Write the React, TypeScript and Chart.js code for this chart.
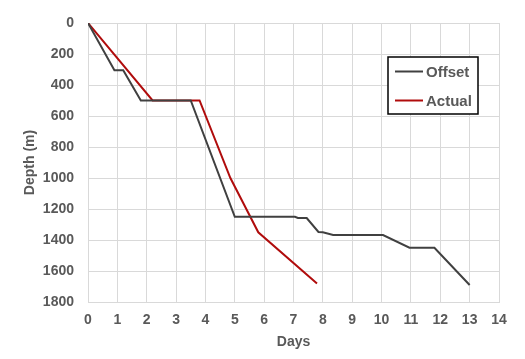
import React, { useEffect, useRef } from "react";
import { Chart, registerables } from "chart.js";

Chart.register(...registerables);

const offsetDays = [0, 0.9, 1.2, 1.8, 3.5, 5.0, 7.05, 7.15, 7.45, 7.85, 8.0, 8.35, 10.05, 10.95, 11.8, 13.0];
const offsetDepth = [0, 305, 305, 500, 500, 1250, 1250, 1258, 1258, 1348, 1350, 1368, 1368, 1450, 1450, 1690];

const actualDays = [0, 2.2, 3.8, 4.85, 5.8, 7.8];
const actualDepth = [0, 500, 500, 1000, 1350, 1680];

const seriesNames = ["Offset", "Actual"];
const seriesColors = ["#404040", "#b00c0c"];

const xTitle = "Days";
const yTitle = "Depth (m)";

const textColor = "#595959";
const fontFamily = "'Liberation Sans', Arial, sans-serif";

const boxLegend = {
  id: "boxLegend",
  afterDraw(chart: any) {
    const { ctx, chartArea } = chart;
    const left = chartArea.right - 111;
    const top = chartArea.top + 34;
    const w = 90;
    const h = 57;
    ctx.save();
    ctx.fillStyle = "#ffffff";
    ctx.fillRect(left, top, w, h);
    ctx.strokeStyle = "#000000";
    ctx.lineWidth = 1.5;
    ctx.strokeRect(left, top, w, h);
    ctx.font = `bold 15px ${fontFamily}`;
    ctx.textBaseline = "middle";
    chart.data.datasets.forEach((ds: any, i: number) => {
      const y = top + 14.5 + i * 29;
      ctx.strokeStyle = ds.borderColor;
      ctx.lineWidth = 2;
      ctx.beginPath();
      ctx.moveTo(left + 7, y);
      ctx.lineTo(left + 35, y);
      ctx.stroke();
      ctx.fillStyle = textColor;
      ctx.fillText(ds.label, left + 38, y + 1);
    });
    ctx.restore();
  },
};

export default function App() {
  const ref = useRef<HTMLCanvasElement | null>(null);
  useEffect(() => {
    if (!ref.current) return;
    const toPts = (xs: number[], ys: number[]) => xs.map((x, i) => ({ x, y: ys[i] }));
    const chart = new Chart(ref.current, {
      type: "line",
      data: {
        datasets: [
          {
            label: seriesNames[0],
            data: toPts(offsetDays, offsetDepth),
            borderColor: seriesColors[0],
            backgroundColor: seriesColors[0],
            borderWidth: 2,
            pointRadius: 0,
            tension: 0,
          },
          {
            label: seriesNames[1],
            data: toPts(actualDays, actualDepth),
            borderColor: seriesColors[1],
            backgroundColor: seriesColors[1],
            borderWidth: 2,
            pointRadius: 0,
            tension: 0,
          },
        ],
      },
      options: {
        animation: false,
        responsive: false,
        maintainAspectRatio: false,
        layout: { padding: { top: 23, right: 26, left: 0, bottom: 0 } },
        plugins: {
          legend: { display: false },
          tooltip: { enabled: false },
        },
        scales: {
          x: {
            type: "linear",
            min: 0,
            max: 14,
            ticks: {
              stepSize: 1,
              color: textColor,
              font: { family: fontFamily, size: 14, weight: "bold" },
              padding: 10,
              callback: (v: any) => String(v),
            },
            grid: { color: "#d9d9d9", lineWidth: 1, drawTicks: false },
            border: { color: "#d9d9d9" },
            title: {
              display: true,
              text: xTitle,
              color: textColor,
              font: { family: fontFamily, size: 14, weight: "bold" },
              padding: { top: 6, bottom: 8 },
            },
            afterFit: (s: any) => {
              s.height = 57;
            },
          },
          y: {
            type: "linear",
            reverse: true,
            min: 0,
            max: 1800,
            ticks: {
              stepSize: 200,
              color: textColor,
              font: { family: fontFamily, size: 14, weight: "bold" },
              padding: 14,
              callback: (v: any) => String(v),
            },
            grid: { color: "#d9d9d9", lineWidth: 1, drawTicks: false },
            border: { color: "#d9d9d9" },
            title: {
              display: true,
              text: yTitle,
              color: textColor,
              font: { family: fontFamily, size: 14, weight: "bold" },
              padding: { top: 22, bottom: 0 },
            },
            afterFit: (s: any) => {
              s.width = 88;
            },
          },
        },
      },
      plugins: [boxLegend],
    });
    return () => chart.destroy();
  }, []);
  return (
    <div style={{ position: "fixed", left: 0, top: 0, width: 525, height: 359, background: "#fff" }}>
      <canvas ref={ref} width={525} height={359} style={{ width: 525, height: 359 }} />
    </div>
  );
}
